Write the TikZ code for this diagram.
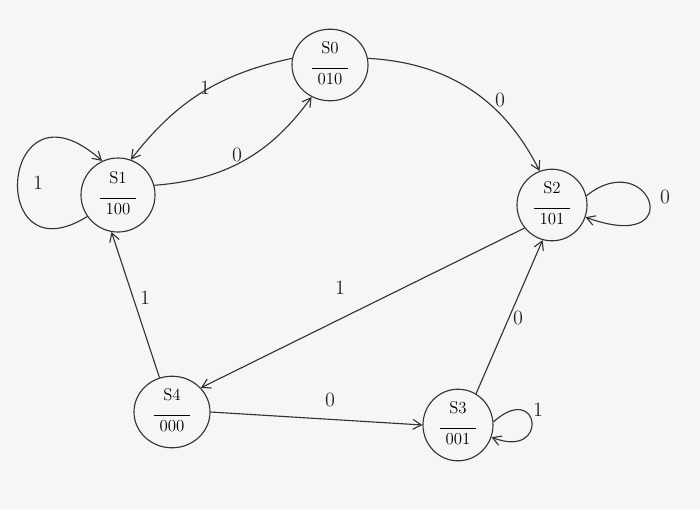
\documentclass[tikz,border=0pt]{standalone}
\usetikzlibrary{arrows.meta,shapes.geometric}
\begin{document}
\begin{tikzpicture}[x=0.025cm,y=-0.025cm,
  st/.style={draw=black!80,ellipse,line width=0.8pt,inner sep=0pt,font=\large},
  ed/.style={draw=black!80,line width=0.8pt,-{Straight Barb[length=6pt,width=7pt]}},
  lb/.style={font=\Large,text=black!85}]
\fill[fill=white!93!gray] (0,0) rectangle (700,509);
\useasboundingbox (0,0) rectangle (700,509);
\newcommand{\stl}[2]{\begin{tabular}{@{}c@{}}#1\\[-3pt]\rule{0.9cm}{0.6pt}\\[-3pt]#2\end{tabular}}
\node[st,minimum width=1.9cm,minimum height=1.75cm] (s0) at (330,65) {\stl{S0}{010}};
\node[st,minimum width=1.85cm,minimum height=1.85cm] (s1) at (118,195) {\stl{S1}{100}};
\node[st,minimum width=1.75cm,minimum height=1.7cm] (s2) at (552,205) {\stl{S2}{101}};
\node[st,minimum width=1.9cm,minimum height=1.3cm] (s4) at (172,412) {\stl{S4}{000}};
\node[st,minimum width=1.75cm,minimum height=1.3cm] (s3) at (458,425) {\stl{S3}{001}};
\draw[ed] (s0.170) to[bend right=20] (s1.70);
\draw[ed] (s1.15) to[bend right=25] (s0.240);
\draw[ed] (s0.10) to[bend left=30] (s2.110);
\draw[ed] (s2.15) .. controls (650,145) and (690,255) .. (s2.-20);
\draw[ed] (s1.215) .. controls (-15,280) and (0,70) .. (s1.115);
\draw[ed] (s3.5) .. controls (540,380) and (550,460) .. (s3.-20);
\draw[ed] (s2.220) -- (s4.40);
\draw[ed] (s4.110) -- (s1.260);
\draw[ed] (s4.0) -- (s3.180);
\draw[ed] (s3.60) -- (s2.255);
\node[lb] (l1) at (205,88) {1};
\node[lb] (l2) at (237,155) {0};
\node[lb] (l3) at (500,100) {0};
\node[lb] (l4) at (665,197) {0};
\node[lb] (l5) at (38,183) {1};
\node[lb] (l6) at (340,288) {1};
\node[lb] (l7) at (145,298) {1};
\node[lb] (l8) at (330,400) {0};
\node[lb] (l9) at (518,318) {0};
\node[lb] (l10) at (538,410) {1};
\end{tikzpicture}
\end{document}
